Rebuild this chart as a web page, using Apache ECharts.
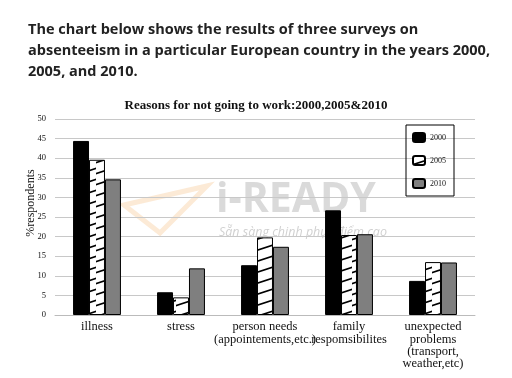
<!DOCTYPE html>
<html><head><meta charset="utf-8">
<script src="https://cdn.jsdelivr.net/npm/echarts@6/dist/echarts.min.js"></script>
<style>html,body{margin:0;padding:0;background:#fff}#c{width:512px;height:378px}</style>
</head><body><div id="c"></div>
<script>
const categories = ["illness","stress","person needs\n(appointements,etc.)","family\nrespomsibilites","unexpected\nproblems\n(transport,\nweather,etc)"];
const years = ["2000","2005","2010"];
const v2000 = [44.4, 5.8, 12.7, 26.7, 8.7];
const v2005 = [39.6, 4.5, 19.8, 20.4, 13.5];
const v2010 = [34.6, 11.9, 17.4, 20.6, 13.4];
const yTicks = [0,5,10,15,20,25,30,35,40,45,50];

function hatch(){
  const c = document.createElement('canvas');
  c.width = 16; c.height = 11;
  const g = c.getContext('2d');
  g.fillStyle = '#fff'; g.fillRect(0,0,16,11);
  g.strokeStyle = '#000'; g.lineWidth = 1.6;
  g.beginPath(); g.moveTo(-1,9); g.lineTo(17,3); g.stroke();
  g.beginPath(); g.moveTo(-1,20); g.lineTo(17,14); g.stroke();
  g.beginPath(); g.moveTo(-1,-2); g.lineTo(17,-8); g.stroke();
  return c;
}
const hatchPat = {image: hatch(), repeat: 'repeat'};
const serif = '"Liberation Serif","DejaVu Serif",serif';
const chart = echarts.init(document.getElementById('c'));
chart.setOption({
  animation:false,
  title:[{
    text:"The chart below shows the results of three surveys on\nabsenteeism in a particular European country in the years 2000,\n2005, and 2010.",
    left:23, top:14,
    textStyle:{fontFamily:'"Open Sans",sans-serif',fontWeight:'bold',fontSize:14.5,lineHeight:21,color:'#222'}
  },{
    text:"Reasons for not going to work:2000,2005&2010",
    left:'center', top:94,
    textStyle:{fontFamily:serif,fontWeight:'bold',fontSize:13,color:'#111'}
  }],
  graphic:[
    {type:'text',left:216,top:180,silent:true,z:0,style:{text:'i-READY',font:'bold 41px "Open Sans",sans-serif',fill:'rgba(150,150,150,0.35)'}},
    {type:'text',left:219,top:226,silent:true,z:0,style:{text:'Sẵn sàng chinh phục điểm cao',font:'italic 12.5px "Open Sans",sans-serif',fill:'rgba(150,150,150,0.45)'}},
    {type:'polygon',silent:true,z:0,shape:{points:[[124,205],[207,186],[160,233]]},style:{fill:'none',stroke:'rgba(245,170,90,0.25)',lineWidth:5}},
    {type:'text',x:31,y:203,silent:true,rotation:Math.PI/2,style:{text:'%respondents',font:'12px "Liberation Serif",serif',fill:'#111',align:'center',verticalAlign:'middle'}}
  ],
  legend:{
    orient:'vertical', left:406, top:125, width:52,
    padding:[7,8,7,6], itemGap:12, itemWidth:12, itemHeight:9,
    borderColor:'#000', borderWidth:1,
    textStyle:{fontFamily:serif,fontSize:8,color:'#111'},
    data:years
  },
  grid:{left:55,right:37,top:119,bottom:63},
  xAxis:{
    type:'category', data:categories,
    axisLine:{lineStyle:{color:'#bbb'}}, axisTick:{show:false},
    axisLabel:{fontFamily:serif,fontSize:12.5,lineHeight:12.3,color:'#111',interval:0,margin:6}
  },
  yAxis:{
    type:'value', min:yTicks[0], max:yTicks[yTicks.length-1], interval:5,
    axisLine:{show:false}, axisTick:{show:false},
    axisLabel:{fontFamily:serif,fontSize:8.5,color:'#111',margin:9},
    splitLine:{lineStyle:{color:'#c8c8c8'}}
  },
  series:[
    {name:years[0],type:'bar',data:v2000,barGap:'0%',barCategoryGap:'43%',itemStyle:{color:'#000',borderColor:'#000',borderWidth:1}},
    {name:years[1],type:'bar',data:v2005,itemStyle:{color:hatchPat,borderColor:'#000',borderWidth:1}},
    {name:years[2],type:'bar',data:v2010,itemStyle:{color:'#7f7f7f',borderColor:'#000',borderWidth:1}}
  ]
});
</script></body></html>
